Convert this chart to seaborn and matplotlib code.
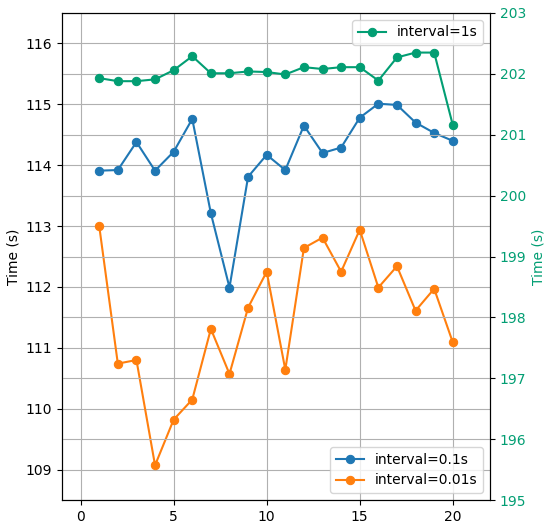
import matplotlib
matplotlib.use("Agg")
import matplotlib.pyplot as plt
import seaborn as sns
import pandas as pd

runs = list(range(1, 21))
time_1s = [201.93, 201.88, 201.88, 201.91, 202.06, 202.29, 202.01, 202.01, 202.04, 202.03,
           201.99, 202.11, 202.08, 202.11, 202.11, 201.89, 202.27, 202.35, 202.35, 201.16]
time_01s = [113.91, 113.92, 114.38, 113.91, 114.22, 114.76, 113.21, 111.99, 113.81, 114.17,
            113.92, 114.65, 114.20, 114.29, 114.78, 115.01, 114.99, 114.70, 114.53, 114.40]
time_001s = [113.00, 110.74, 110.80, 109.07, 109.82, 110.15, 111.31, 110.57, 111.66, 112.25,
             110.64, 112.64, 112.81, 112.25, 112.94, 111.99, 112.34, 111.61, 111.97, 111.09]

blue = "#1f77b4"
orange = "#ff7f0e"
green = "#029e73"

fig = plt.figure(figsize=(5.45, 5.31), dpi=100)
ax = fig.add_axes([62 / 545, 31 / 531, 428 / 545, 487 / 531])

sns.lineplot(x=runs, y=time_01s, ax=ax, color=blue, marker="o", markersize=6,
             markeredgecolor=blue, label="interval=0.1s")
sns.lineplot(x=runs, y=time_001s, ax=ax, color=orange, marker="o", markersize=6,
             markeredgecolor=orange, label="interval=0.01s")
ax.set_ylim(108.5, 116.5)
ax.set_xlim(-1, 22)
ax.set_xticks([0, 5, 10, 15, 20])
ax.set_yticks(range(109, 117))
ax.set_ylabel("Time (s)")
ax.set_xlabel("")
ax.grid(True, color="#b0b0b0", linewidth=0.8)
ax.set_axisbelow(True)
ax.legend(loc="lower right")

ax2 = ax.twinx()
sns.lineplot(x=runs, y=time_1s, ax=ax2, color=green, marker="o", markersize=6,
             markeredgecolor=green, label="interval=1s")
ax2.set_ylim(195, 203)
ax2.set_yticks(range(195, 204))
ax2.set_ylabel("Time (s)", color=green)
ax2.tick_params(axis="y", labelcolor=green)
ax2.grid(True, color="#b0b0b0", linewidth=0.8)
ax2.legend(loc="upper right")

fig.savefig("out.png", dpi=100)
